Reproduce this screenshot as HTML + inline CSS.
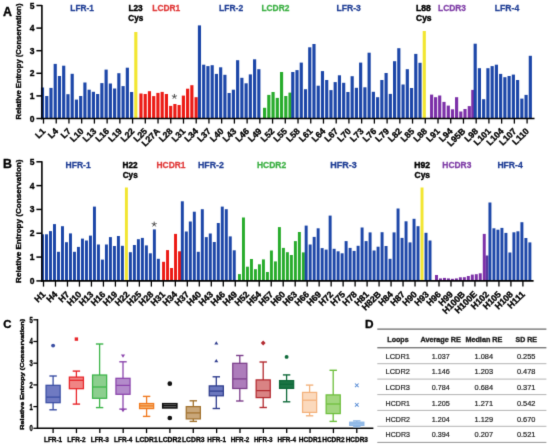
<!DOCTYPE html>
<html><head><meta charset="utf-8"><style>
html,body{margin:0;padding:0;background:#fff;width:550px;height:446px;overflow:hidden}
</style></head><body>
<svg width="550" height="446" viewBox="0 0 550 446" style="display:block;will-change:transform">
<defs><filter id="soft" x="0" y="0" width="550" height="446" filterUnits="userSpaceOnUse" color-interpolation-filters="sRGB"><feConvolveMatrix order="3" kernelMatrix="0.0114 0.084 0.0114 0.084 0.618 0.084 0.0114 0.084 0.0114" edgeMode="duplicate"/></filter></defs>
<g filter="url(#soft)">
<rect width="550" height="446" fill="#fff"/>
<g font-family='"Liberation Sans", sans-serif'>
<rect x="40.92" y="87.50" width="3.15" height="31.00" fill="#1c46a8" />
<rect x="45.17" y="96.00" width="3.15" height="22.50" fill="#1c46a8" />
<rect x="49.41" y="87.90" width="3.15" height="30.60" fill="#1c46a8" />
<rect x="53.65" y="63.90" width="3.15" height="54.60" fill="#1c46a8" />
<rect x="57.89" y="76.00" width="3.15" height="42.50" fill="#1c46a8" />
<rect x="62.13" y="65.70" width="3.15" height="52.80" fill="#1c46a8" />
<rect x="66.38" y="94.20" width="3.15" height="24.30" fill="#1c46a8" />
<rect x="70.62" y="73.80" width="3.15" height="44.70" fill="#1c46a8" />
<rect x="74.86" y="99.60" width="3.15" height="18.90" fill="#1c46a8" />
<rect x="79.10" y="96.00" width="3.15" height="22.50" fill="#1c46a8" />
<rect x="83.34" y="82.50" width="3.15" height="36.00" fill="#1c46a8" />
<rect x="87.59" y="89.70" width="3.15" height="28.80" fill="#1c46a8" />
<rect x="91.83" y="91.80" width="3.15" height="26.70" fill="#1c46a8" />
<rect x="96.07" y="94.00" width="3.15" height="24.50" fill="#1c46a8" />
<rect x="100.31" y="83.10" width="3.15" height="35.40" fill="#1c46a8" />
<rect x="104.55" y="69.60" width="3.15" height="48.90" fill="#1c46a8" />
<rect x="108.80" y="83.50" width="3.15" height="35.00" fill="#1c46a8" />
<rect x="113.04" y="88.50" width="3.15" height="30.00" fill="#1c46a8" />
<rect x="117.28" y="73.20" width="3.15" height="45.30" fill="#1c46a8" />
<rect x="121.52" y="86.10" width="3.15" height="32.40" fill="#1c46a8" />
<rect x="125.77" y="67.70" width="3.15" height="50.80" fill="#1c46a8" />
<rect x="130.01" y="92.00" width="3.15" height="26.50" fill="#1c46a8" />
<rect x="134.25" y="32.00" width="3.15" height="86.50" fill="#f2e630" />
<rect x="139.39" y="93.50" width="3.15" height="25.00" fill="#ec1a14" />
<rect x="143.63" y="94.00" width="3.15" height="24.50" fill="#ec1a14" />
<rect x="147.88" y="91.20" width="3.15" height="27.30" fill="#ec1a14" />
<rect x="152.12" y="96.10" width="3.15" height="22.40" fill="#ec1a14" />
<rect x="156.36" y="92.90" width="3.15" height="25.60" fill="#ec1a14" />
<rect x="160.60" y="91.90" width="3.15" height="26.60" fill="#ec1a14" />
<rect x="164.84" y="94.00" width="3.15" height="24.50" fill="#ec1a14" />
<rect x="169.09" y="105.90" width="3.15" height="12.60" fill="#ec1a14" />
<rect x="173.33" y="104.00" width="3.15" height="14.50" fill="#ec1a14" />
<rect x="177.57" y="105.00" width="3.15" height="13.50" fill="#ec1a14" />
<rect x="181.81" y="95.60" width="3.15" height="22.90" fill="#ec1a14" />
<rect x="186.05" y="88.70" width="3.15" height="29.80" fill="#ec1a14" />
<rect x="190.30" y="85.20" width="3.15" height="33.30" fill="#ec1a14" />
<rect x="194.54" y="97.20" width="3.15" height="21.30" fill="#ec1a14" />
<rect x="197.88" y="25.40" width="3.15" height="93.10" fill="#1c46a8" />
<rect x="202.12" y="64.70" width="3.15" height="53.80" fill="#1c46a8" />
<rect x="206.36" y="66.10" width="3.15" height="52.40" fill="#1c46a8" />
<rect x="210.61" y="65.20" width="3.15" height="53.30" fill="#1c46a8" />
<rect x="214.85" y="73.90" width="3.15" height="44.60" fill="#1c46a8" />
<rect x="219.09" y="67.30" width="3.15" height="51.20" fill="#1c46a8" />
<rect x="223.33" y="74.80" width="3.15" height="43.70" fill="#1c46a8" />
<rect x="227.57" y="93.00" width="3.15" height="25.50" fill="#1c46a8" />
<rect x="231.81" y="89.70" width="3.15" height="28.80" fill="#1c46a8" />
<rect x="236.06" y="60.20" width="3.15" height="58.30" fill="#1c46a8" />
<rect x="240.30" y="77.80" width="3.15" height="40.70" fill="#1c46a8" />
<rect x="244.54" y="83.30" width="3.15" height="35.20" fill="#1c46a8" />
<rect x="248.78" y="74.40" width="3.15" height="44.10" fill="#1c46a8" />
<rect x="253.03" y="59.30" width="3.15" height="59.20" fill="#1c46a8" />
<rect x="257.27" y="69.20" width="3.15" height="49.30" fill="#1c46a8" />
<rect x="263.01" y="107.80" width="3.15" height="10.70" fill="#28ac2c" />
<rect x="267.25" y="94.90" width="3.15" height="23.60" fill="#28ac2c" />
<rect x="271.49" y="92.00" width="3.15" height="26.50" fill="#28ac2c" />
<rect x="275.74" y="97.90" width="3.15" height="20.60" fill="#28ac2c" />
<rect x="279.98" y="72.00" width="3.15" height="46.50" fill="#28ac2c" />
<rect x="284.22" y="96.00" width="3.15" height="22.50" fill="#28ac2c" />
<rect x="288.46" y="92.60" width="3.15" height="25.90" fill="#28ac2c" />
<rect x="291.20" y="72.00" width="3.15" height="46.50" fill="#1c46a8" />
<rect x="295.44" y="70.10" width="3.15" height="48.40" fill="#1c46a8" />
<rect x="299.69" y="62.60" width="3.15" height="55.90" fill="#1c46a8" />
<rect x="303.93" y="89.20" width="3.15" height="29.30" fill="#1c46a8" />
<rect x="308.17" y="47.30" width="3.15" height="71.20" fill="#1c46a8" />
<rect x="312.41" y="44.00" width="3.15" height="74.50" fill="#1c46a8" />
<rect x="316.66" y="85.70" width="3.15" height="32.80" fill="#1c46a8" />
<rect x="320.90" y="71.10" width="3.15" height="47.40" fill="#1c46a8" />
<rect x="325.14" y="80.00" width="3.15" height="38.50" fill="#1c46a8" />
<rect x="329.38" y="90.10" width="3.15" height="28.40" fill="#1c46a8" />
<rect x="333.62" y="82.10" width="3.15" height="36.40" fill="#1c46a8" />
<rect x="337.87" y="75.30" width="3.15" height="43.20" fill="#1c46a8" />
<rect x="342.11" y="82.80" width="3.15" height="35.70" fill="#1c46a8" />
<rect x="346.35" y="92.00" width="3.15" height="26.50" fill="#1c46a8" />
<rect x="350.59" y="76.20" width="3.15" height="42.30" fill="#1c46a8" />
<rect x="354.83" y="87.80" width="3.15" height="30.70" fill="#1c46a8" />
<rect x="359.07" y="62.60" width="3.15" height="55.90" fill="#1c46a8" />
<rect x="363.32" y="87.30" width="3.15" height="31.20" fill="#1c46a8" />
<rect x="367.56" y="52.70" width="3.15" height="65.80" fill="#1c46a8" />
<rect x="371.80" y="91.80" width="3.15" height="26.70" fill="#1c46a8" />
<rect x="376.04" y="97.20" width="3.15" height="21.30" fill="#1c46a8" />
<rect x="380.29" y="80.00" width="3.15" height="38.50" fill="#1c46a8" />
<rect x="384.53" y="73.00" width="3.15" height="45.50" fill="#1c46a8" />
<rect x="388.77" y="93.90" width="3.15" height="24.60" fill="#1c46a8" />
<rect x="393.01" y="61.20" width="3.15" height="57.30" fill="#1c46a8" />
<rect x="397.25" y="48.20" width="3.15" height="70.30" fill="#1c46a8" />
<rect x="401.50" y="84.50" width="3.15" height="34.00" fill="#1c46a8" />
<rect x="405.74" y="69.20" width="3.15" height="49.30" fill="#1c46a8" />
<rect x="409.98" y="88.00" width="3.15" height="30.50" fill="#1c46a8" />
<rect x="414.22" y="53.90" width="3.15" height="64.60" fill="#1c46a8" />
<rect x="418.46" y="62.80" width="3.15" height="55.70" fill="#1c46a8" />
<rect x="422.70" y="31.00" width="3.15" height="87.50" fill="#f2e630" />
<rect x="430.03" y="94.60" width="3.15" height="23.90" fill="#7c30a8" />
<rect x="434.03" y="97.20" width="3.15" height="21.30" fill="#7c30a8" />
<rect x="438.12" y="95.50" width="3.15" height="23.00" fill="#7c30a8" />
<rect x="442.43" y="101.90" width="3.15" height="16.60" fill="#7c30a8" />
<rect x="446.73" y="105.60" width="3.15" height="12.90" fill="#7c30a8" />
<rect x="450.93" y="109.30" width="3.15" height="9.20" fill="#7c30a8" />
<rect x="455.03" y="97.20" width="3.15" height="21.30" fill="#7c30a8" />
<rect x="459.23" y="111.50" width="3.15" height="7.00" fill="#7c30a8" />
<rect x="463.43" y="109.00" width="3.15" height="9.50" fill="#7c30a8" />
<rect x="467.73" y="106.10" width="3.15" height="12.40" fill="#7c30a8" />
<rect x="471.23" y="89.90" width="3.15" height="28.60" fill="#7c30a8" />
<rect x="473.61" y="43.70" width="3.15" height="74.80" fill="#1c46a8" />
<rect x="477.85" y="68.20" width="3.15" height="50.30" fill="#1c46a8" />
<rect x="482.09" y="99.20" width="3.15" height="19.30" fill="#1c46a8" />
<rect x="486.34" y="68.20" width="3.15" height="50.30" fill="#1c46a8" />
<rect x="490.58" y="66.10" width="3.15" height="52.40" fill="#1c46a8" />
<rect x="494.82" y="64.70" width="3.15" height="53.80" fill="#1c46a8" />
<rect x="499.06" y="73.90" width="3.15" height="44.60" fill="#1c46a8" />
<rect x="503.30" y="77.20" width="3.15" height="41.30" fill="#1c46a8" />
<rect x="507.55" y="76.00" width="3.15" height="42.50" fill="#1c46a8" />
<rect x="511.79" y="74.60" width="3.15" height="43.90" fill="#1c46a8" />
<rect x="516.03" y="80.00" width="3.15" height="38.50" fill="#1c46a8" />
<rect x="520.27" y="98.60" width="3.15" height="19.90" fill="#1c46a8" />
<rect x="524.51" y="94.90" width="3.15" height="23.60" fill="#1c46a8" />
<rect x="528.75" y="55.80" width="3.15" height="62.70" fill="#1c46a8" />
<line x1="41.90" y1="4.90" x2="41.90" y2="119.30" stroke="#000" stroke-width="1.6"/>
<line x1="41.10" y1="118.50" x2="534.50" y2="118.50" stroke="#000" stroke-width="1.6"/>
<line x1="36.40" y1="118.50" x2="41.90" y2="118.50" stroke="#000" stroke-width="1.5"/>
<text x="34.40" y="121.55" font-size="8.5" font-weight="bold" fill="#000" text-anchor="end" stroke="#000" stroke-width="0.36" >0</text>
<line x1="36.40" y1="95.90" x2="41.90" y2="95.90" stroke="#000" stroke-width="1.5"/>
<text x="34.40" y="98.95" font-size="8.5" font-weight="bold" fill="#000" text-anchor="end" stroke="#000" stroke-width="0.36" >1</text>
<line x1="36.40" y1="73.30" x2="41.90" y2="73.30" stroke="#000" stroke-width="1.5"/>
<text x="34.40" y="76.35" font-size="8.5" font-weight="bold" fill="#000" text-anchor="end" stroke="#000" stroke-width="0.36" >2</text>
<line x1="36.40" y1="50.70" x2="41.90" y2="50.70" stroke="#000" stroke-width="1.5"/>
<text x="34.40" y="53.75" font-size="8.5" font-weight="bold" fill="#000" text-anchor="end" stroke="#000" stroke-width="0.36" >3</text>
<line x1="36.40" y1="28.10" x2="41.90" y2="28.10" stroke="#000" stroke-width="1.5"/>
<text x="34.40" y="31.15" font-size="8.5" font-weight="bold" fill="#000" text-anchor="end" stroke="#000" stroke-width="0.36" >4</text>
<line x1="36.40" y1="5.50" x2="41.90" y2="5.50" stroke="#000" stroke-width="1.5"/>
<text x="34.40" y="8.55" font-size="8.5" font-weight="bold" fill="#000" text-anchor="end" stroke="#000" stroke-width="0.36" >5</text>
<line x1="43.50" y1="118.50" x2="43.50" y2="123.60" stroke="#000" stroke-width="1.3"/>
<text x="0.00" y="0.00" font-size="8.8" font-weight="bold" fill="#000" text-anchor="end" stroke="#000" stroke-width="0.36" transform="translate(46.00 131.70) scale(1 1.0) rotate(-45)">L1</text>
<line x1="56.23" y1="118.50" x2="56.23" y2="123.60" stroke="#000" stroke-width="1.3"/>
<text x="0.00" y="0.00" font-size="8.8" font-weight="bold" fill="#000" text-anchor="end" stroke="#000" stroke-width="0.36" transform="translate(58.73 131.70) scale(1 1.0) rotate(-45)">L4</text>
<line x1="68.95" y1="118.50" x2="68.95" y2="123.60" stroke="#000" stroke-width="1.3"/>
<text x="0.00" y="0.00" font-size="8.8" font-weight="bold" fill="#000" text-anchor="end" stroke="#000" stroke-width="0.36" transform="translate(71.45 131.70) scale(1 1.0) rotate(-45)">L7</text>
<line x1="81.68" y1="118.50" x2="81.68" y2="123.60" stroke="#000" stroke-width="1.3"/>
<text x="0.00" y="0.00" font-size="8.8" font-weight="bold" fill="#000" text-anchor="end" stroke="#000" stroke-width="0.36" transform="translate(84.18 131.70) scale(1 1.0) rotate(-45)">L10</text>
<line x1="94.40" y1="118.50" x2="94.40" y2="123.60" stroke="#000" stroke-width="1.3"/>
<text x="0.00" y="0.00" font-size="8.8" font-weight="bold" fill="#000" text-anchor="end" stroke="#000" stroke-width="0.36" transform="translate(96.90 131.70) scale(1 1.0) rotate(-45)">L13</text>
<line x1="107.13" y1="118.50" x2="107.13" y2="123.60" stroke="#000" stroke-width="1.3"/>
<text x="0.00" y="0.00" font-size="8.8" font-weight="bold" fill="#000" text-anchor="end" stroke="#000" stroke-width="0.36" transform="translate(109.63 131.70) scale(1 1.0) rotate(-45)">L16</text>
<line x1="119.86" y1="118.50" x2="119.86" y2="123.60" stroke="#000" stroke-width="1.3"/>
<text x="0.00" y="0.00" font-size="8.8" font-weight="bold" fill="#000" text-anchor="end" stroke="#000" stroke-width="0.36" transform="translate(122.36 131.70) scale(1 1.0) rotate(-45)">L19</text>
<line x1="132.58" y1="118.50" x2="132.58" y2="123.60" stroke="#000" stroke-width="1.3"/>
<text x="0.00" y="0.00" font-size="8.8" font-weight="bold" fill="#000" text-anchor="end" stroke="#000" stroke-width="0.36" transform="translate(135.08 131.70) scale(1 1.0) rotate(-45)">L22</text>
<line x1="145.31" y1="118.50" x2="145.31" y2="123.60" stroke="#000" stroke-width="1.3"/>
<text x="0.00" y="0.00" font-size="8.8" font-weight="bold" fill="#000" text-anchor="end" stroke="#000" stroke-width="0.36" transform="translate(147.81 131.70) scale(1 1.0) rotate(-45)">L25</text>
<line x1="158.03" y1="118.50" x2="158.03" y2="123.60" stroke="#000" stroke-width="1.3"/>
<text x="0.00" y="0.00" font-size="8.8" font-weight="bold" fill="#000" text-anchor="end" stroke="#000" stroke-width="0.36" transform="translate(160.53 131.70) scale(1 1.0) rotate(-45)">L27A</text>
<line x1="170.76" y1="118.50" x2="170.76" y2="123.60" stroke="#000" stroke-width="1.3"/>
<text x="0.00" y="0.00" font-size="8.8" font-weight="bold" fill="#000" text-anchor="end" stroke="#000" stroke-width="0.36" transform="translate(173.26 131.70) scale(1 1.0) rotate(-45)">L28</text>
<line x1="183.49" y1="118.50" x2="183.49" y2="123.60" stroke="#000" stroke-width="1.3"/>
<text x="0.00" y="0.00" font-size="8.8" font-weight="bold" fill="#000" text-anchor="end" stroke="#000" stroke-width="0.36" transform="translate(185.99 131.70) scale(1 1.0) rotate(-45)">L31</text>
<line x1="196.21" y1="118.50" x2="196.21" y2="123.60" stroke="#000" stroke-width="1.3"/>
<text x="0.00" y="0.00" font-size="8.8" font-weight="bold" fill="#000" text-anchor="end" stroke="#000" stroke-width="0.36" transform="translate(198.71 131.70) scale(1 1.0) rotate(-45)">L34</text>
<line x1="208.94" y1="118.50" x2="208.94" y2="123.60" stroke="#000" stroke-width="1.3"/>
<text x="0.00" y="0.00" font-size="8.8" font-weight="bold" fill="#000" text-anchor="end" stroke="#000" stroke-width="0.36" transform="translate(211.44 131.70) scale(1 1.0) rotate(-45)">L37</text>
<line x1="221.66" y1="118.50" x2="221.66" y2="123.60" stroke="#000" stroke-width="1.3"/>
<text x="0.00" y="0.00" font-size="8.8" font-weight="bold" fill="#000" text-anchor="end" stroke="#000" stroke-width="0.36" transform="translate(224.16 131.70) scale(1 1.0) rotate(-45)">L40</text>
<line x1="234.39" y1="118.50" x2="234.39" y2="123.60" stroke="#000" stroke-width="1.3"/>
<text x="0.00" y="0.00" font-size="8.8" font-weight="bold" fill="#000" text-anchor="end" stroke="#000" stroke-width="0.36" transform="translate(236.89 131.70) scale(1 1.0) rotate(-45)">L43</text>
<line x1="247.12" y1="118.50" x2="247.12" y2="123.60" stroke="#000" stroke-width="1.3"/>
<text x="0.00" y="0.00" font-size="8.8" font-weight="bold" fill="#000" text-anchor="end" stroke="#000" stroke-width="0.36" transform="translate(249.62 131.70) scale(1 1.0) rotate(-45)">L46</text>
<line x1="259.84" y1="118.50" x2="259.84" y2="123.60" stroke="#000" stroke-width="1.3"/>
<text x="0.00" y="0.00" font-size="8.8" font-weight="bold" fill="#000" text-anchor="end" stroke="#000" stroke-width="0.36" transform="translate(262.34 131.70) scale(1 1.0) rotate(-45)">L49</text>
<line x1="272.57" y1="118.50" x2="272.57" y2="123.60" stroke="#000" stroke-width="1.3"/>
<text x="0.00" y="0.00" font-size="8.8" font-weight="bold" fill="#000" text-anchor="end" stroke="#000" stroke-width="0.36" transform="translate(275.07 131.70) scale(1 1.0) rotate(-45)">L52</text>
<line x1="285.29" y1="118.50" x2="285.29" y2="123.60" stroke="#000" stroke-width="1.3"/>
<text x="0.00" y="0.00" font-size="8.8" font-weight="bold" fill="#000" text-anchor="end" stroke="#000" stroke-width="0.36" transform="translate(287.79 131.70) scale(1 1.0) rotate(-45)">L55</text>
<line x1="298.02" y1="118.50" x2="298.02" y2="123.60" stroke="#000" stroke-width="1.3"/>
<text x="0.00" y="0.00" font-size="8.8" font-weight="bold" fill="#000" text-anchor="end" stroke="#000" stroke-width="0.36" transform="translate(300.52 131.70) scale(1 1.0) rotate(-45)">L58</text>
<line x1="310.75" y1="118.50" x2="310.75" y2="123.60" stroke="#000" stroke-width="1.3"/>
<text x="0.00" y="0.00" font-size="8.8" font-weight="bold" fill="#000" text-anchor="end" stroke="#000" stroke-width="0.36" transform="translate(313.25 131.70) scale(1 1.0) rotate(-45)">L61</text>
<line x1="323.47" y1="118.50" x2="323.47" y2="123.60" stroke="#000" stroke-width="1.3"/>
<text x="0.00" y="0.00" font-size="8.8" font-weight="bold" fill="#000" text-anchor="end" stroke="#000" stroke-width="0.36" transform="translate(325.97 131.70) scale(1 1.0) rotate(-45)">L64</text>
<line x1="336.20" y1="118.50" x2="336.20" y2="123.60" stroke="#000" stroke-width="1.3"/>
<text x="0.00" y="0.00" font-size="8.8" font-weight="bold" fill="#000" text-anchor="end" stroke="#000" stroke-width="0.36" transform="translate(338.70 131.70) scale(1 1.0) rotate(-45)">L67</text>
<line x1="348.92" y1="118.50" x2="348.92" y2="123.60" stroke="#000" stroke-width="1.3"/>
<text x="0.00" y="0.00" font-size="8.8" font-weight="bold" fill="#000" text-anchor="end" stroke="#000" stroke-width="0.36" transform="translate(351.42 131.70) scale(1 1.0) rotate(-45)">L70</text>
<line x1="361.65" y1="118.50" x2="361.65" y2="123.60" stroke="#000" stroke-width="1.3"/>
<text x="0.00" y="0.00" font-size="8.8" font-weight="bold" fill="#000" text-anchor="end" stroke="#000" stroke-width="0.36" transform="translate(364.15 131.70) scale(1 1.0) rotate(-45)">L73</text>
<line x1="374.38" y1="118.50" x2="374.38" y2="123.60" stroke="#000" stroke-width="1.3"/>
<text x="0.00" y="0.00" font-size="8.8" font-weight="bold" fill="#000" text-anchor="end" stroke="#000" stroke-width="0.36" transform="translate(376.88 131.70) scale(1 1.0) rotate(-45)">L76</text>
<line x1="387.10" y1="118.50" x2="387.10" y2="123.60" stroke="#000" stroke-width="1.3"/>
<text x="0.00" y="0.00" font-size="8.8" font-weight="bold" fill="#000" text-anchor="end" stroke="#000" stroke-width="0.36" transform="translate(389.60 131.70) scale(1 1.0) rotate(-45)">L79</text>
<line x1="399.83" y1="118.50" x2="399.83" y2="123.60" stroke="#000" stroke-width="1.3"/>
<text x="0.00" y="0.00" font-size="8.8" font-weight="bold" fill="#000" text-anchor="end" stroke="#000" stroke-width="0.36" transform="translate(402.33 131.70) scale(1 1.0) rotate(-45)">L82</text>
<line x1="412.55" y1="118.50" x2="412.55" y2="123.60" stroke="#000" stroke-width="1.3"/>
<text x="0.00" y="0.00" font-size="8.8" font-weight="bold" fill="#000" text-anchor="end" stroke="#000" stroke-width="0.36" transform="translate(415.05 131.70) scale(1 1.0) rotate(-45)">L85</text>
<line x1="425.28" y1="118.50" x2="425.28" y2="123.60" stroke="#000" stroke-width="1.3"/>
<text x="0.00" y="0.00" font-size="8.8" font-weight="bold" fill="#000" text-anchor="end" stroke="#000" stroke-width="0.36" transform="translate(427.78 131.70) scale(1 1.0) rotate(-45)">L88</text>
<line x1="438.01" y1="118.50" x2="438.01" y2="123.60" stroke="#000" stroke-width="1.3"/>
<text x="0.00" y="0.00" font-size="8.8" font-weight="bold" fill="#000" text-anchor="end" stroke="#000" stroke-width="0.36" transform="translate(440.51 131.70) scale(1 1.0) rotate(-45)">L91</text>
<line x1="450.73" y1="118.50" x2="450.73" y2="123.60" stroke="#000" stroke-width="1.3"/>
<text x="0.00" y="0.00" font-size="8.8" font-weight="bold" fill="#000" text-anchor="end" stroke="#000" stroke-width="0.36" transform="translate(453.23 131.70) scale(1 1.0) rotate(-45)">L94</text>
<line x1="463.46" y1="118.50" x2="463.46" y2="123.60" stroke="#000" stroke-width="1.3"/>
<text x="0.00" y="0.00" font-size="8.8" font-weight="bold" fill="#000" text-anchor="end" stroke="#000" stroke-width="0.36" transform="translate(465.96 131.70) scale(1 1.0) rotate(-45)">L95B</text>
<line x1="476.18" y1="118.50" x2="476.18" y2="123.60" stroke="#000" stroke-width="1.3"/>
<text x="0.00" y="0.00" font-size="8.8" font-weight="bold" fill="#000" text-anchor="end" stroke="#000" stroke-width="0.36" transform="translate(478.68 131.70) scale(1 1.0) rotate(-45)">L98</text>
<line x1="488.91" y1="118.50" x2="488.91" y2="123.60" stroke="#000" stroke-width="1.3"/>
<text x="0.00" y="0.00" font-size="8.8" font-weight="bold" fill="#000" text-anchor="end" stroke="#000" stroke-width="0.36" transform="translate(491.41 131.70) scale(1 1.0) rotate(-45)">L101</text>
<line x1="501.64" y1="118.50" x2="501.64" y2="123.60" stroke="#000" stroke-width="1.3"/>
<text x="0.00" y="0.00" font-size="8.8" font-weight="bold" fill="#000" text-anchor="end" stroke="#000" stroke-width="0.36" transform="translate(504.14 131.70) scale(1 1.0) rotate(-45)">L104</text>
<line x1="514.36" y1="118.50" x2="514.36" y2="123.60" stroke="#000" stroke-width="1.3"/>
<text x="0.00" y="0.00" font-size="8.8" font-weight="bold" fill="#000" text-anchor="end" stroke="#000" stroke-width="0.36" transform="translate(516.86 131.70) scale(1 1.0) rotate(-45)">L107</text>
<line x1="527.09" y1="118.50" x2="527.09" y2="123.60" stroke="#000" stroke-width="1.3"/>
<text x="0.00" y="0.00" font-size="8.8" font-weight="bold" fill="#000" text-anchor="end" stroke="#000" stroke-width="0.36" transform="translate(529.59 131.70) scale(1 1.0) rotate(-45)">L110</text>
<text x="2.90" y="15.75" font-size="12.4" font-weight="bold" fill="#000" text-anchor="start" stroke="#000" stroke-width="0.36" >A</text>
<text x="21.20" y="61.50" font-size="7.9" font-weight="bold" fill="#000" text-anchor="middle" stroke="#000" stroke-width="0.36" transform="rotate(-90 21.2 61.5)" textLength="116" lengthAdjust="spacingAndGlyphs">Relative Entropy (Conservation)</text>
<text x="70.30" y="11.30" font-size="8.2" font-weight="bold" fill="#213f96" text-anchor="start" stroke="#213f96" stroke-width="0.26" textLength="23.6" lengthAdjust="spacingAndGlyphs">LFR-1</text>
<text x="128.40" y="11.30" font-size="8.2" font-weight="bold" fill="#000" text-anchor="start" stroke="#000" stroke-width="0.4" textLength="14.3" lengthAdjust="spacingAndGlyphs">L23</text>
<text x="128.30" y="20.90" font-size="8.2" font-weight="bold" fill="#000" text-anchor="start" stroke="#000" stroke-width="0.4" textLength="15.0" lengthAdjust="spacingAndGlyphs">Cys</text>
<text x="152.30" y="11.30" font-size="8.2" font-weight="bold" fill="#e03a3a" text-anchor="start" stroke="#e03a3a" stroke-width="0.26" textLength="28.0" lengthAdjust="spacingAndGlyphs">LCDR1</text>
<text x="219.10" y="11.30" font-size="8.2" font-weight="bold" fill="#213f96" text-anchor="start" stroke="#213f96" stroke-width="0.26" textLength="24.0" lengthAdjust="spacingAndGlyphs">LFR-2</text>
<text x="261.40" y="11.30" font-size="8.2" font-weight="bold" fill="#3cb044" text-anchor="start" stroke="#3cb044" stroke-width="0.26" textLength="28.0" lengthAdjust="spacingAndGlyphs">LCDR2</text>
<text x="336.40" y="11.30" font-size="8.2" font-weight="bold" fill="#213f96" text-anchor="start" stroke="#213f96" stroke-width="0.26" textLength="24.4" lengthAdjust="spacingAndGlyphs">LFR-3</text>
<text x="416.00" y="11.30" font-size="8.2" font-weight="bold" fill="#000" text-anchor="start" stroke="#000" stroke-width="0.4" textLength="14.8" lengthAdjust="spacingAndGlyphs">L88</text>
<text x="416.00" y="20.90" font-size="8.2" font-weight="bold" fill="#000" text-anchor="start" stroke="#000" stroke-width="0.4" textLength="15.6" lengthAdjust="spacingAndGlyphs">Cys</text>
<text x="438.00" y="11.30" font-size="8.2" font-weight="bold" fill="#8040a8" text-anchor="start" stroke="#8040a8" stroke-width="0.26" textLength="28.0" lengthAdjust="spacingAndGlyphs">LCDR3</text>
<text x="494.80" y="11.30" font-size="8.2" font-weight="bold" fill="#213f96" text-anchor="start" stroke="#213f96" stroke-width="0.26" textLength="24.4" lengthAdjust="spacingAndGlyphs">LFR-4</text>
<path d="M174.40,96.60 L174.40,94.35 M174.40,96.60 L176.54,95.90 M174.40,96.60 L175.72,98.42 M174.40,96.60 L173.08,98.42 M174.40,96.60 L172.26,95.90 " stroke="#4a4a4a" stroke-width="0.95" stroke-linecap="round" fill="none"/>
<rect x="41.02" y="234.30" width="2.95" height="46.60" fill="#1c46a8" />
<rect x="45.02" y="234.30" width="2.95" height="46.60" fill="#1c46a8" />
<rect x="49.02" y="231.10" width="2.95" height="49.80" fill="#1c46a8" />
<rect x="53.01" y="224.10" width="2.95" height="56.80" fill="#1c46a8" />
<rect x="57.01" y="251.80" width="2.95" height="29.10" fill="#1c46a8" />
<rect x="61.00" y="226.20" width="2.95" height="54.70" fill="#1c46a8" />
<rect x="65.00" y="242.20" width="2.95" height="38.70" fill="#1c46a8" />
<rect x="68.99" y="233.40" width="2.95" height="47.50" fill="#1c46a8" />
<rect x="72.99" y="251.80" width="2.95" height="29.10" fill="#1c46a8" />
<rect x="76.98" y="246.90" width="2.95" height="34.00" fill="#1c46a8" />
<rect x="80.98" y="238.60" width="2.95" height="42.30" fill="#1c46a8" />
<rect x="84.97" y="240.50" width="2.95" height="40.40" fill="#1c46a8" />
<rect x="88.97" y="235.60" width="2.95" height="45.30" fill="#1c46a8" />
<rect x="92.96" y="206.60" width="2.95" height="74.30" fill="#1c46a8" />
<rect x="96.96" y="244.50" width="2.95" height="36.40" fill="#1c46a8" />
<rect x="100.95" y="259.60" width="2.95" height="21.30" fill="#1c46a8" />
<rect x="104.95" y="244.50" width="2.95" height="36.40" fill="#1c46a8" />
<rect x="108.94" y="237.10" width="2.95" height="43.80" fill="#1c46a8" />
<rect x="112.94" y="246.00" width="2.95" height="34.90" fill="#1c46a8" />
<rect x="116.93" y="236.00" width="2.95" height="44.90" fill="#1c46a8" />
<rect x="120.93" y="245.80" width="2.95" height="35.10" fill="#1c46a8" />
<rect x="124.92" y="187.50" width="2.95" height="93.40" fill="#f2e630" />
<rect x="128.91" y="252.20" width="2.95" height="28.70" fill="#1c46a8" />
<rect x="132.91" y="245.00" width="2.95" height="35.90" fill="#1c46a8" />
<rect x="136.91" y="239.20" width="2.95" height="41.70" fill="#1c46a8" />
<rect x="140.90" y="237.90" width="2.95" height="43.00" fill="#1c46a8" />
<rect x="144.90" y="245.40" width="2.95" height="35.50" fill="#1c46a8" />
<rect x="148.89" y="253.30" width="2.95" height="27.60" fill="#1c46a8" />
<rect x="152.89" y="229.40" width="2.95" height="51.50" fill="#1c46a8" />
<rect x="156.88" y="258.80" width="2.95" height="22.10" fill="#1c46a8" />
<rect x="162.08" y="261.80" width="2.95" height="19.10" fill="#ec1a14" />
<rect x="166.07" y="250.10" width="2.95" height="30.80" fill="#ec1a14" />
<rect x="170.06" y="268.00" width="2.95" height="12.90" fill="#ec1a14" />
<rect x="174.06" y="233.90" width="2.95" height="47.00" fill="#ec1a14" />
<rect x="178.06" y="251.30" width="2.95" height="29.60" fill="#ec1a14" />
<rect x="180.85" y="201.30" width="2.95" height="79.60" fill="#1c46a8" />
<rect x="184.84" y="231.50" width="2.95" height="49.40" fill="#1c46a8" />
<rect x="188.84" y="221.50" width="2.95" height="59.40" fill="#1c46a8" />
<rect x="192.84" y="211.70" width="2.95" height="69.20" fill="#1c46a8" />
<rect x="196.83" y="251.80" width="2.95" height="29.10" fill="#1c46a8" />
<rect x="200.83" y="209.20" width="2.95" height="71.70" fill="#1c46a8" />
<rect x="204.82" y="237.10" width="2.95" height="43.80" fill="#1c46a8" />
<rect x="208.81" y="233.50" width="2.95" height="47.40" fill="#1c46a8" />
<rect x="212.81" y="242.00" width="2.95" height="38.90" fill="#1c46a8" />
<rect x="216.81" y="223.00" width="2.95" height="57.90" fill="#1c46a8" />
<rect x="220.80" y="206.60" width="2.95" height="74.30" fill="#1c46a8" />
<rect x="224.80" y="209.20" width="2.95" height="71.70" fill="#1c46a8" />
<rect x="228.79" y="236.40" width="2.95" height="44.50" fill="#1c46a8" />
<rect x="232.78" y="250.30" width="2.95" height="30.60" fill="#1c46a8" />
<rect x="237.98" y="274.10" width="2.95" height="6.80" fill="#28ac2c" />
<rect x="241.97" y="217.50" width="2.95" height="63.40" fill="#28ac2c" />
<rect x="245.97" y="266.70" width="2.95" height="14.20" fill="#28ac2c" />
<rect x="249.97" y="259.00" width="2.95" height="21.90" fill="#28ac2c" />
<rect x="253.96" y="269.20" width="2.95" height="11.70" fill="#28ac2c" />
<rect x="257.95" y="264.30" width="2.95" height="16.60" fill="#28ac2c" />
<rect x="261.95" y="259.40" width="2.95" height="21.50" fill="#28ac2c" />
<rect x="265.94" y="272.00" width="2.95" height="8.90" fill="#28ac2c" />
<rect x="269.94" y="250.50" width="2.95" height="30.40" fill="#28ac2c" />
<rect x="273.94" y="261.40" width="2.95" height="19.50" fill="#28ac2c" />
<rect x="277.93" y="227.10" width="2.95" height="53.80" fill="#28ac2c" />
<rect x="281.93" y="247.90" width="2.95" height="33.00" fill="#28ac2c" />
<rect x="285.92" y="252.20" width="2.95" height="28.70" fill="#28ac2c" />
<rect x="289.91" y="255.00" width="2.95" height="25.90" fill="#28ac2c" />
<rect x="293.91" y="241.10" width="2.95" height="39.80" fill="#28ac2c" />
<rect x="297.90" y="232.00" width="2.95" height="48.90" fill="#28ac2c" />
<rect x="301.90" y="252.40" width="2.95" height="28.50" fill="#28ac2c" />
<rect x="304.69" y="225.60" width="2.95" height="55.30" fill="#1c46a8" />
<rect x="308.69" y="244.50" width="2.95" height="36.40" fill="#1c46a8" />
<rect x="312.69" y="236.90" width="2.95" height="44.00" fill="#1c46a8" />
<rect x="316.68" y="228.30" width="2.95" height="52.60" fill="#1c46a8" />
<rect x="320.68" y="248.10" width="2.95" height="32.80" fill="#1c46a8" />
<rect x="324.67" y="249.60" width="2.95" height="31.30" fill="#1c46a8" />
<rect x="328.66" y="215.60" width="2.95" height="65.30" fill="#1c46a8" />
<rect x="332.66" y="248.80" width="2.95" height="32.10" fill="#1c46a8" />
<rect x="336.65" y="251.30" width="2.95" height="29.60" fill="#1c46a8" />
<rect x="340.65" y="253.30" width="2.95" height="27.60" fill="#1c46a8" />
<rect x="344.64" y="241.10" width="2.95" height="39.80" fill="#1c46a8" />
<rect x="348.64" y="247.90" width="2.95" height="33.00" fill="#1c46a8" />
<rect x="352.63" y="250.90" width="2.95" height="30.00" fill="#1c46a8" />
<rect x="356.63" y="245.80" width="2.95" height="35.10" fill="#1c46a8" />
<rect x="360.62" y="227.50" width="2.95" height="53.40" fill="#1c46a8" />
<rect x="364.62" y="241.10" width="2.95" height="39.80" fill="#1c46a8" />
<rect x="368.62" y="232.40" width="2.95" height="48.50" fill="#1c46a8" />
<rect x="372.61" y="250.50" width="2.95" height="30.40" fill="#1c46a8" />
<rect x="376.60" y="246.70" width="2.95" height="34.20" fill="#1c46a8" />
<rect x="380.60" y="232.20" width="2.95" height="48.70" fill="#1c46a8" />
<rect x="384.59" y="246.00" width="2.95" height="34.90" fill="#1c46a8" />
<rect x="388.59" y="258.80" width="2.95" height="22.10" fill="#1c46a8" />
<rect x="392.58" y="232.40" width="2.95" height="48.50" fill="#1c46a8" />
<rect x="396.58" y="208.50" width="2.95" height="72.40" fill="#1c46a8" />
<rect x="400.57" y="237.90" width="2.95" height="43.00" fill="#1c46a8" />
<rect x="404.57" y="221.30" width="2.95" height="59.60" fill="#1c46a8" />
<rect x="408.56" y="242.40" width="2.95" height="38.50" fill="#1c46a8" />
<rect x="412.56" y="218.80" width="2.95" height="62.10" fill="#1c46a8" />
<rect x="416.56" y="226.20" width="2.95" height="54.70" fill="#1c46a8" />
<rect x="420.55" y="187.50" width="2.95" height="93.40" fill="#f2e630" />
<rect x="424.54" y="232.80" width="2.95" height="48.10" fill="#1c46a8" />
<rect x="428.54" y="240.50" width="2.95" height="40.40" fill="#1c46a8" />
<rect x="485.47" y="255.50" width="2.95" height="25.40" fill="#5a38a0" />
<rect x="435.02" y="275.00" width="2.95" height="5.90" fill="#7c30a8" />
<rect x="439.00" y="278.40" width="2.95" height="2.50" fill="#7c30a8" />
<rect x="442.98" y="277.90" width="2.95" height="3.00" fill="#7c30a8" />
<rect x="446.96" y="278.40" width="2.95" height="2.50" fill="#7c30a8" />
<rect x="450.94" y="278.80" width="2.95" height="2.10" fill="#7c30a8" />
<rect x="454.92" y="278.40" width="2.95" height="2.50" fill="#7c30a8" />
<rect x="458.90" y="277.30" width="2.95" height="3.60" fill="#7c30a8" />
<rect x="462.88" y="277.20" width="2.95" height="3.70" fill="#7c30a8" />
<rect x="466.86" y="276.00" width="2.95" height="4.90" fill="#7c30a8" />
<rect x="470.84" y="274.60" width="2.95" height="6.30" fill="#7c30a8" />
<rect x="474.82" y="274.20" width="2.95" height="6.70" fill="#7c30a8" />
<rect x="478.80" y="273.30" width="2.95" height="7.60" fill="#7c30a8" />
<rect x="482.78" y="233.90" width="2.95" height="47.00" fill="#7c30a8" />
<rect x="488.46" y="202.50" width="2.95" height="78.40" fill="#1c46a8" />
<rect x="492.46" y="228.30" width="2.95" height="52.60" fill="#1c46a8" />
<rect x="496.45" y="229.70" width="2.95" height="51.20" fill="#1c46a8" />
<rect x="500.45" y="227.90" width="2.95" height="53.00" fill="#1c46a8" />
<rect x="504.44" y="232.90" width="2.95" height="48.00" fill="#1c46a8" />
<rect x="508.44" y="252.50" width="2.95" height="28.40" fill="#1c46a8" />
<rect x="512.44" y="232.30" width="2.95" height="48.60" fill="#1c46a8" />
<rect x="516.43" y="231.30" width="2.95" height="49.60" fill="#1c46a8" />
<rect x="520.43" y="222.20" width="2.95" height="58.70" fill="#1c46a8" />
<rect x="524.42" y="238.00" width="2.95" height="42.90" fill="#1c46a8" />
<rect x="528.41" y="242.40" width="2.95" height="38.50" fill="#1c46a8" />
<line x1="41.90" y1="161.20" x2="41.90" y2="281.70" stroke="#000" stroke-width="1.6"/>
<line x1="41.10" y1="280.90" x2="533.60" y2="280.90" stroke="#000" stroke-width="1.6"/>
<line x1="36.40" y1="280.90" x2="41.90" y2="280.90" stroke="#000" stroke-width="1.5"/>
<text x="34.40" y="283.95" font-size="8.5" font-weight="bold" fill="#000" text-anchor="end" stroke="#000" stroke-width="0.36" >0</text>
<line x1="36.40" y1="257.08" x2="41.90" y2="257.08" stroke="#000" stroke-width="1.5"/>
<text x="34.40" y="260.13" font-size="8.5" font-weight="bold" fill="#000" text-anchor="end" stroke="#000" stroke-width="0.36" >1</text>
<line x1="36.40" y1="233.26" x2="41.90" y2="233.26" stroke="#000" stroke-width="1.5"/>
<text x="34.40" y="236.31" font-size="8.5" font-weight="bold" fill="#000" text-anchor="end" stroke="#000" stroke-width="0.36" >2</text>
<line x1="36.40" y1="209.44" x2="41.90" y2="209.44" stroke="#000" stroke-width="1.5"/>
<text x="34.40" y="212.49" font-size="8.5" font-weight="bold" fill="#000" text-anchor="end" stroke="#000" stroke-width="0.36" >3</text>
<line x1="36.40" y1="185.62" x2="41.90" y2="185.62" stroke="#000" stroke-width="1.5"/>
<text x="34.40" y="188.67" font-size="8.5" font-weight="bold" fill="#000" text-anchor="end" stroke="#000" stroke-width="0.36" >4</text>
<line x1="36.40" y1="161.80" x2="41.90" y2="161.80" stroke="#000" stroke-width="1.5"/>
<text x="34.40" y="164.85" font-size="8.5" font-weight="bold" fill="#000" text-anchor="end" stroke="#000" stroke-width="0.36" >5</text>
<line x1="43.50" y1="280.90" x2="43.50" y2="286.60" stroke="#000" stroke-width="1.3"/>
<text x="0.00" y="0.00" font-size="8.9" font-weight="bold" fill="#000" text-anchor="end" stroke="#000" stroke-width="0.36" transform="translate(46.00 294.90) scale(1 1.0) rotate(-45)">H1</text>
<line x1="55.48" y1="280.90" x2="55.48" y2="286.60" stroke="#000" stroke-width="1.3"/>
<text x="0.00" y="0.00" font-size="8.9" font-weight="bold" fill="#000" text-anchor="end" stroke="#000" stroke-width="0.36" transform="translate(57.98 294.90) scale(1 1.0) rotate(-45)">H4</text>
<line x1="67.47" y1="280.90" x2="67.47" y2="286.60" stroke="#000" stroke-width="1.3"/>
<text x="0.00" y="0.00" font-size="8.9" font-weight="bold" fill="#000" text-anchor="end" stroke="#000" stroke-width="0.36" transform="translate(69.97 294.90) scale(1 1.0) rotate(-45)">H7</text>
<line x1="79.45" y1="280.90" x2="79.45" y2="286.60" stroke="#000" stroke-width="1.3"/>
<text x="0.00" y="0.00" font-size="8.9" font-weight="bold" fill="#000" text-anchor="end" stroke="#000" stroke-width="0.36" transform="translate(81.95 294.90) scale(1 1.0) rotate(-45)">H10</text>
<line x1="91.44" y1="280.90" x2="91.44" y2="286.60" stroke="#000" stroke-width="1.3"/>
<text x="0.00" y="0.00" font-size="8.9" font-weight="bold" fill="#000" text-anchor="end" stroke="#000" stroke-width="0.36" transform="translate(93.94 294.90) scale(1 1.0) rotate(-45)">H13</text>
<line x1="103.43" y1="280.90" x2="103.43" y2="286.60" stroke="#000" stroke-width="1.3"/>
<text x="0.00" y="0.00" font-size="8.9" font-weight="bold" fill="#000" text-anchor="end" stroke="#000" stroke-width="0.36" transform="translate(105.93 294.90) scale(1 1.0) rotate(-45)">H16</text>
<line x1="115.41" y1="280.90" x2="115.41" y2="286.60" stroke="#000" stroke-width="1.3"/>
<text x="0.00" y="0.00" font-size="8.9" font-weight="bold" fill="#000" text-anchor="end" stroke="#000" stroke-width="0.36" transform="translate(117.91 294.90) scale(1 1.0) rotate(-45)">H19</text>
<line x1="127.39" y1="280.90" x2="127.39" y2="286.60" stroke="#000" stroke-width="1.3"/>
<text x="0.00" y="0.00" font-size="8.9" font-weight="bold" fill="#000" text-anchor="end" stroke="#000" stroke-width="0.36" transform="translate(129.89 294.90) scale(1 1.0) rotate(-45)">H22</text>
<line x1="139.38" y1="280.90" x2="139.38" y2="286.60" stroke="#000" stroke-width="1.3"/>
<text x="0.00" y="0.00" font-size="8.9" font-weight="bold" fill="#000" text-anchor="end" stroke="#000" stroke-width="0.36" transform="translate(141.88 294.90) scale(1 1.0) rotate(-45)">H25</text>
<line x1="151.37" y1="280.90" x2="151.37" y2="286.60" stroke="#000" stroke-width="1.3"/>
<text x="0.00" y="0.00" font-size="8.9" font-weight="bold" fill="#000" text-anchor="end" stroke="#000" stroke-width="0.36" transform="translate(153.87 294.90) scale(1 1.0) rotate(-45)">H28</text>
<line x1="163.35" y1="280.90" x2="163.35" y2="286.60" stroke="#000" stroke-width="1.3"/>
<text x="0.00" y="0.00" font-size="8.9" font-weight="bold" fill="#000" text-anchor="end" stroke="#000" stroke-width="0.36" transform="translate(165.85 294.90) scale(1 1.0) rotate(-45)">H31</text>
<line x1="175.34" y1="280.90" x2="175.34" y2="286.60" stroke="#000" stroke-width="1.3"/>
<text x="0.00" y="0.00" font-size="8.9" font-weight="bold" fill="#000" text-anchor="end" stroke="#000" stroke-width="0.36" transform="translate(177.84 294.90) scale(1 1.0) rotate(-45)">H34</text>
<line x1="187.32" y1="280.90" x2="187.32" y2="286.60" stroke="#000" stroke-width="1.3"/>
<text x="0.00" y="0.00" font-size="8.9" font-weight="bold" fill="#000" text-anchor="end" stroke="#000" stroke-width="0.36" transform="translate(189.82 294.90) scale(1 1.0) rotate(-45)">H37</text>
<line x1="199.31" y1="280.90" x2="199.31" y2="286.60" stroke="#000" stroke-width="1.3"/>
<text x="0.00" y="0.00" font-size="8.9" font-weight="bold" fill="#000" text-anchor="end" stroke="#000" stroke-width="0.36" transform="translate(201.81 294.90) scale(1 1.0) rotate(-45)">H40</text>
<line x1="211.29" y1="280.90" x2="211.29" y2="286.60" stroke="#000" stroke-width="1.3"/>
<text x="0.00" y="0.00" font-size="8.9" font-weight="bold" fill="#000" text-anchor="end" stroke="#000" stroke-width="0.36" transform="translate(213.79 294.90) scale(1 1.0) rotate(-45)">H43</text>
<line x1="223.28" y1="280.90" x2="223.28" y2="286.60" stroke="#000" stroke-width="1.3"/>
<text x="0.00" y="0.00" font-size="8.9" font-weight="bold" fill="#000" text-anchor="end" stroke="#000" stroke-width="0.36" transform="translate(225.78 294.90) scale(1 1.0) rotate(-45)">H46</text>
<line x1="235.26" y1="280.90" x2="235.26" y2="286.60" stroke="#000" stroke-width="1.3"/>
<text x="0.00" y="0.00" font-size="8.9" font-weight="bold" fill="#000" text-anchor="end" stroke="#000" stroke-width="0.36" transform="translate(237.76 294.90) scale(1 1.0) rotate(-45)">H49</text>
<line x1="247.25" y1="280.90" x2="247.25" y2="286.60" stroke="#000" stroke-width="1.3"/>
<text x="0.00" y="0.00" font-size="8.9" font-weight="bold" fill="#000" text-anchor="end" stroke="#000" stroke-width="0.36" transform="translate(249.75 294.90) scale(1 1.0) rotate(-45)">H52</text>
<line x1="259.23" y1="280.90" x2="259.23" y2="286.60" stroke="#000" stroke-width="1.3"/>
<text x="0.00" y="0.00" font-size="8.9" font-weight="bold" fill="#000" text-anchor="end" stroke="#000" stroke-width="0.36" transform="translate(261.73 294.90) scale(1 1.0) rotate(-45)">H54</text>
<line x1="271.22" y1="280.90" x2="271.22" y2="286.60" stroke="#000" stroke-width="1.3"/>
<text x="0.00" y="0.00" font-size="8.9" font-weight="bold" fill="#000" text-anchor="end" stroke="#000" stroke-width="0.36" transform="translate(273.72 294.90) scale(1 1.0) rotate(-45)">H57</text>
<line x1="283.20" y1="280.90" x2="283.20" y2="286.60" stroke="#000" stroke-width="1.3"/>
<text x="0.00" y="0.00" font-size="8.9" font-weight="bold" fill="#000" text-anchor="end" stroke="#000" stroke-width="0.36" transform="translate(285.70 294.90) scale(1 1.0) rotate(-45)">H60</text>
<line x1="295.19" y1="280.90" x2="295.19" y2="286.60" stroke="#000" stroke-width="1.3"/>
<text x="0.00" y="0.00" font-size="8.9" font-weight="bold" fill="#000" text-anchor="end" stroke="#000" stroke-width="0.36" transform="translate(297.69 294.90) scale(1 1.0) rotate(-45)">H63</text>
<line x1="307.17" y1="280.90" x2="307.17" y2="286.60" stroke="#000" stroke-width="1.3"/>
<text x="0.00" y="0.00" font-size="8.9" font-weight="bold" fill="#000" text-anchor="end" stroke="#000" stroke-width="0.36" transform="translate(309.67 294.90) scale(1 1.0) rotate(-45)">H66</text>
<line x1="319.16" y1="280.90" x2="319.16" y2="286.60" stroke="#000" stroke-width="1.3"/>
<text x="0.00" y="0.00" font-size="8.9" font-weight="bold" fill="#000" text-anchor="end" stroke="#000" stroke-width="0.36" transform="translate(321.66 294.90) scale(1 1.0) rotate(-45)">H69</text>
<line x1="331.14" y1="280.90" x2="331.14" y2="286.60" stroke="#000" stroke-width="1.3"/>
<text x="0.00" y="0.00" font-size="8.9" font-weight="bold" fill="#000" text-anchor="end" stroke="#000" stroke-width="0.36" transform="translate(333.64 294.90) scale(1 1.0) rotate(-45)">H72</text>
<line x1="343.12" y1="280.90" x2="343.12" y2="286.60" stroke="#000" stroke-width="1.3"/>
<text x="0.00" y="0.00" font-size="8.9" font-weight="bold" fill="#000" text-anchor="end" stroke="#000" stroke-width="0.36" transform="translate(345.62 294.90) scale(1 1.0) rotate(-45)">H75</text>
<line x1="355.11" y1="280.90" x2="355.11" y2="286.60" stroke="#000" stroke-width="1.3"/>
<text x="0.00" y="0.00" font-size="8.9" font-weight="bold" fill="#000" text-anchor="end" stroke="#000" stroke-width="0.36" transform="translate(357.61 294.90) scale(1 1.0) rotate(-45)">H78</text>
<line x1="367.10" y1="280.90" x2="367.10" y2="286.60" stroke="#000" stroke-width="1.3"/>
<text x="0.00" y="0.00" font-size="8.9" font-weight="bold" fill="#000" text-anchor="end" stroke="#000" stroke-width="0.36" transform="translate(369.60 294.90) scale(1 1.0) rotate(-45)">H81</text>
<line x1="379.08" y1="280.90" x2="379.08" y2="286.60" stroke="#000" stroke-width="1.3"/>
<text x="0.00" y="0.00" font-size="8.9" font-weight="bold" fill="#000" text-anchor="end" stroke="#000" stroke-width="0.36" transform="translate(381.58 294.90) scale(1 1.0) rotate(-45)">H82B</text>
<line x1="391.06" y1="280.90" x2="391.06" y2="286.60" stroke="#000" stroke-width="1.3"/>
<text x="0.00" y="0.00" font-size="8.9" font-weight="bold" fill="#000" text-anchor="end" stroke="#000" stroke-width="0.36" transform="translate(393.56 294.90) scale(1 1.0) rotate(-45)">H84</text>
<line x1="403.05" y1="280.90" x2="403.05" y2="286.60" stroke="#000" stroke-width="1.3"/>
<text x="0.00" y="0.00" font-size="8.9" font-weight="bold" fill="#000" text-anchor="end" stroke="#000" stroke-width="0.36" transform="translate(405.55 294.90) scale(1 1.0) rotate(-45)">H87</text>
<line x1="415.04" y1="280.90" x2="415.04" y2="286.60" stroke="#000" stroke-width="1.3"/>
<text x="0.00" y="0.00" font-size="8.9" font-weight="bold" fill="#000" text-anchor="end" stroke="#000" stroke-width="0.36" transform="translate(417.54 294.90) scale(1 1.0) rotate(-45)">H90</text>
<line x1="427.02" y1="280.90" x2="427.02" y2="286.60" stroke="#000" stroke-width="1.3"/>
<text x="0.00" y="0.00" font-size="8.9" font-weight="bold" fill="#000" text-anchor="end" stroke="#000" stroke-width="0.36" transform="translate(429.52 294.90) scale(1 1.0) rotate(-45)">H93</text>
<line x1="439.00" y1="280.90" x2="439.00" y2="286.60" stroke="#000" stroke-width="1.3"/>
<text x="0.00" y="0.00" font-size="8.9" font-weight="bold" fill="#000" text-anchor="end" stroke="#000" stroke-width="0.36" transform="translate(441.50 294.90) scale(1 1.0) rotate(-45)">H96</text>
<line x1="450.99" y1="280.90" x2="450.99" y2="286.60" stroke="#000" stroke-width="1.3"/>
<text x="0.00" y="0.00" font-size="8.9" font-weight="bold" fill="#000" text-anchor="end" stroke="#000" stroke-width="0.36" transform="translate(453.49 294.90) scale(1 1.0) rotate(-45)">H99</text>
<line x1="462.98" y1="280.90" x2="462.98" y2="286.60" stroke="#000" stroke-width="1.3"/>
<text x="0.00" y="0.00" font-size="8.9" font-weight="bold" fill="#000" text-anchor="end" stroke="#000" stroke-width="0.36" transform="translate(465.48 294.90) scale(1 1.0) rotate(-45)">H100B</text>
<line x1="474.96" y1="280.90" x2="474.96" y2="286.60" stroke="#000" stroke-width="1.3"/>
<text x="0.00" y="0.00" font-size="8.9" font-weight="bold" fill="#000" text-anchor="end" stroke="#000" stroke-width="0.36" transform="translate(477.46 294.90) scale(1 1.0) rotate(-45)">H100E</text>
<line x1="486.94" y1="280.90" x2="486.94" y2="286.60" stroke="#000" stroke-width="1.3"/>
<text x="0.00" y="0.00" font-size="8.9" font-weight="bold" fill="#000" text-anchor="end" stroke="#000" stroke-width="0.36" transform="translate(489.44 294.90) scale(1 1.0) rotate(-45)">H102</text>
<line x1="498.93" y1="280.90" x2="498.93" y2="286.60" stroke="#000" stroke-width="1.3"/>
<text x="0.00" y="0.00" font-size="8.9" font-weight="bold" fill="#000" text-anchor="end" stroke="#000" stroke-width="0.36" transform="translate(501.43 294.90) scale(1 1.0) rotate(-45)">H105</text>
<line x1="510.92" y1="280.90" x2="510.92" y2="286.60" stroke="#000" stroke-width="1.3"/>
<text x="0.00" y="0.00" font-size="8.9" font-weight="bold" fill="#000" text-anchor="end" stroke="#000" stroke-width="0.36" transform="translate(513.41 294.90) scale(1 1.0) rotate(-45)">H108</text>
<line x1="522.90" y1="280.90" x2="522.90" y2="286.60" stroke="#000" stroke-width="1.3"/>
<text x="0.00" y="0.00" font-size="8.9" font-weight="bold" fill="#000" text-anchor="end" stroke="#000" stroke-width="0.36" transform="translate(525.40 294.90) scale(1 1.0) rotate(-45)">H111</text>
<text x="2.90" y="168.05" font-size="12.4" font-weight="bold" fill="#000" text-anchor="start" stroke="#000" stroke-width="0.36" >B</text>
<text x="21.20" y="221.20" font-size="7.9" font-weight="bold" fill="#000" text-anchor="middle" stroke="#000" stroke-width="0.36" transform="rotate(-90 21.2 221.2)" textLength="123.4" lengthAdjust="spacingAndGlyphs">Relative Entropy (Conservation)</text>
<text x="65.60" y="167.60" font-size="8.2" font-weight="bold" fill="#213f96" text-anchor="start" stroke="#213f96" stroke-width="0.26" textLength="25.1" lengthAdjust="spacingAndGlyphs">HFR-1</text>
<text x="122.60" y="167.60" font-size="8.2" font-weight="bold" fill="#000" text-anchor="start" stroke="#000" stroke-width="0.4" textLength="15.0" lengthAdjust="spacingAndGlyphs">H22</text>
<text x="122.70" y="177.80" font-size="8.2" font-weight="bold" fill="#000" text-anchor="start" stroke="#000" stroke-width="0.4" textLength="15.0" lengthAdjust="spacingAndGlyphs">Cys</text>
<text x="156.50" y="167.60" font-size="8.2" font-weight="bold" fill="#e03a3a" text-anchor="start" stroke="#e03a3a" stroke-width="0.26" textLength="29.0" lengthAdjust="spacingAndGlyphs">HCDR1</text>
<text x="198.00" y="167.60" font-size="8.2" font-weight="bold" fill="#213f96" text-anchor="start" stroke="#213f96" stroke-width="0.26" textLength="25.8" lengthAdjust="spacingAndGlyphs">HFR-2</text>
<text x="257.00" y="167.60" font-size="8.2" font-weight="bold" fill="#3cb044" text-anchor="start" stroke="#3cb044" stroke-width="0.26" textLength="29.2" lengthAdjust="spacingAndGlyphs">HCDR2</text>
<text x="330.20" y="167.60" font-size="8.2" font-weight="bold" fill="#213f96" text-anchor="start" stroke="#213f96" stroke-width="0.26" textLength="26.5" lengthAdjust="spacingAndGlyphs">HFR-3</text>
<text x="414.20" y="167.60" font-size="8.2" font-weight="bold" fill="#000" text-anchor="start" stroke="#000" stroke-width="0.4" textLength="15.8" lengthAdjust="spacingAndGlyphs">H92</text>
<text x="414.60" y="177.80" font-size="8.2" font-weight="bold" fill="#000" text-anchor="start" stroke="#000" stroke-width="0.4" textLength="15.4" lengthAdjust="spacingAndGlyphs">Cys</text>
<text x="442.30" y="167.60" font-size="8.2" font-weight="bold" fill="#8040a8" text-anchor="start" stroke="#8040a8" stroke-width="0.26" textLength="29.1" lengthAdjust="spacingAndGlyphs">HCDR3</text>
<text x="497.40" y="167.60" font-size="8.2" font-weight="bold" fill="#213f96" text-anchor="start" stroke="#213f96" stroke-width="0.26" textLength="25.3" lengthAdjust="spacingAndGlyphs">HFR-4</text>
<path d="M154.20,224.30 L154.20,222.05 M154.20,224.30 L156.34,223.60 M154.20,224.30 L155.52,226.12 M154.20,224.30 L152.88,226.12 M154.20,224.30 L152.06,223.60 " stroke="#4a4a4a" stroke-width="0.95" stroke-linecap="round" fill="none"/>
<line x1="37.50" y1="319.00" x2="37.50" y2="429.00" stroke="#000" stroke-width="1.5"/>
<line x1="36.80" y1="428.30" x2="373.40" y2="428.30" stroke="#000" stroke-width="1.5"/>
<line x1="33.40" y1="428.30" x2="37.50" y2="428.30" stroke="#000" stroke-width="1.3"/>
<text x="32.90" y="431.20" font-size="8.2" font-weight="bold" fill="#000" text-anchor="end" stroke="#000" stroke-width="0.36" textLength="3.3" lengthAdjust="spacingAndGlyphs">0</text>
<line x1="33.40" y1="406.60" x2="37.50" y2="406.60" stroke="#000" stroke-width="1.3"/>
<text x="32.90" y="409.50" font-size="8.2" font-weight="bold" fill="#000" text-anchor="end" stroke="#000" stroke-width="0.36" textLength="3.3" lengthAdjust="spacingAndGlyphs">1</text>
<line x1="33.40" y1="384.90" x2="37.50" y2="384.90" stroke="#000" stroke-width="1.3"/>
<text x="32.90" y="387.80" font-size="8.2" font-weight="bold" fill="#000" text-anchor="end" stroke="#000" stroke-width="0.36" textLength="3.3" lengthAdjust="spacingAndGlyphs">2</text>
<line x1="33.40" y1="363.20" x2="37.50" y2="363.20" stroke="#000" stroke-width="1.3"/>
<text x="32.90" y="366.10" font-size="8.2" font-weight="bold" fill="#000" text-anchor="end" stroke="#000" stroke-width="0.36" textLength="3.3" lengthAdjust="spacingAndGlyphs">3</text>
<line x1="33.40" y1="341.50" x2="37.50" y2="341.50" stroke="#000" stroke-width="1.3"/>
<text x="32.90" y="344.40" font-size="8.2" font-weight="bold" fill="#000" text-anchor="end" stroke="#000" stroke-width="0.36" textLength="3.3" lengthAdjust="spacingAndGlyphs">4</text>
<line x1="33.40" y1="319.80" x2="37.50" y2="319.80" stroke="#000" stroke-width="1.3"/>
<text x="32.90" y="322.70" font-size="8.2" font-weight="bold" fill="#000" text-anchor="end" stroke="#000" stroke-width="0.36" textLength="3.3" lengthAdjust="spacingAndGlyphs">5</text>
<text x="3.20" y="328.00" font-size="11.4" font-weight="bold" fill="#000" text-anchor="start" stroke="#000" stroke-width="0.36" >C</text>
<text x="23.60" y="374.30" font-size="5.1" font-weight="bold" fill="#000" text-anchor="middle" stroke="#000" stroke-width="0.36" transform="rotate(-90 23.6 374.3)" textLength="110.8" lengthAdjust="spacingAndGlyphs">Relative Entropy (Conservation)</text>
<line x1="53.10" y1="428.30" x2="53.10" y2="433.10" stroke="#000" stroke-width="1.3"/>
<text x="53.10" y="441.90" font-size="7.6" font-weight="bold" fill="#000" text-anchor="middle" stroke="#000" stroke-width="0.36" textLength="18.2" lengthAdjust="spacingAndGlyphs">LFR-1</text>
<line x1="76.46" y1="428.30" x2="76.46" y2="433.10" stroke="#000" stroke-width="1.3"/>
<text x="76.46" y="441.90" font-size="7.6" font-weight="bold" fill="#000" text-anchor="middle" stroke="#000" stroke-width="0.36" textLength="18.2" lengthAdjust="spacingAndGlyphs">LFR-2</text>
<line x1="99.82" y1="428.30" x2="99.82" y2="433.10" stroke="#000" stroke-width="1.3"/>
<text x="99.82" y="441.90" font-size="7.6" font-weight="bold" fill="#000" text-anchor="middle" stroke="#000" stroke-width="0.36" textLength="18.2" lengthAdjust="spacingAndGlyphs">LFR-3</text>
<line x1="123.18" y1="428.30" x2="123.18" y2="433.10" stroke="#000" stroke-width="1.3"/>
<text x="123.18" y="441.90" font-size="7.6" font-weight="bold" fill="#000" text-anchor="middle" stroke="#000" stroke-width="0.36" textLength="18.2" lengthAdjust="spacingAndGlyphs">LFR-4</text>
<line x1="146.54" y1="428.30" x2="146.54" y2="433.10" stroke="#000" stroke-width="1.3"/>
<text x="146.54" y="441.90" font-size="7.6" font-weight="bold" fill="#000" text-anchor="middle" stroke="#000" stroke-width="0.36" textLength="22.2" lengthAdjust="spacingAndGlyphs">LCDR1</text>
<line x1="169.90" y1="428.30" x2="169.90" y2="433.10" stroke="#000" stroke-width="1.3"/>
<text x="169.90" y="441.90" font-size="7.6" font-weight="bold" fill="#000" text-anchor="middle" stroke="#000" stroke-width="0.36" textLength="22.9" lengthAdjust="spacingAndGlyphs">LCDR2</text>
<line x1="193.26" y1="428.30" x2="193.26" y2="433.10" stroke="#000" stroke-width="1.3"/>
<text x="193.26" y="441.90" font-size="7.6" font-weight="bold" fill="#000" text-anchor="middle" stroke="#000" stroke-width="0.36" textLength="22.6" lengthAdjust="spacingAndGlyphs">LCDR3</text>
<line x1="216.62" y1="428.30" x2="216.62" y2="433.10" stroke="#000" stroke-width="1.3"/>
<text x="216.62" y="441.90" font-size="7.6" font-weight="bold" fill="#000" text-anchor="middle" stroke="#000" stroke-width="0.36" textLength="18.6" lengthAdjust="spacingAndGlyphs">HFR-1</text>
<line x1="239.98" y1="428.30" x2="239.98" y2="433.10" stroke="#000" stroke-width="1.3"/>
<text x="239.98" y="441.90" font-size="7.6" font-weight="bold" fill="#000" text-anchor="middle" stroke="#000" stroke-width="0.36" textLength="18.6" lengthAdjust="spacingAndGlyphs">HFR-2</text>
<line x1="263.34" y1="428.30" x2="263.34" y2="433.10" stroke="#000" stroke-width="1.3"/>
<text x="263.34" y="441.90" font-size="7.6" font-weight="bold" fill="#000" text-anchor="middle" stroke="#000" stroke-width="0.36" textLength="18.6" lengthAdjust="spacingAndGlyphs">HFR-3</text>
<line x1="286.70" y1="428.30" x2="286.70" y2="433.10" stroke="#000" stroke-width="1.3"/>
<text x="286.70" y="441.90" font-size="7.6" font-weight="bold" fill="#000" text-anchor="middle" stroke="#000" stroke-width="0.36" textLength="18.6" lengthAdjust="spacingAndGlyphs">HFR-4</text>
<line x1="310.06" y1="428.30" x2="310.06" y2="433.10" stroke="#000" stroke-width="1.3"/>
<text x="310.06" y="441.90" font-size="7.6" font-weight="bold" fill="#000" text-anchor="middle" stroke="#000" stroke-width="0.36" textLength="22.4" lengthAdjust="spacingAndGlyphs">HCDR1</text>
<line x1="333.42" y1="428.30" x2="333.42" y2="433.10" stroke="#000" stroke-width="1.3"/>
<text x="333.42" y="441.90" font-size="7.6" font-weight="bold" fill="#000" text-anchor="middle" stroke="#000" stroke-width="0.36" textLength="22.4" lengthAdjust="spacingAndGlyphs">HCDR2</text>
<line x1="356.78" y1="428.30" x2="356.78" y2="433.10" stroke="#000" stroke-width="1.3"/>
<text x="356.78" y="441.90" font-size="7.6" font-weight="bold" fill="#000" text-anchor="middle" stroke="#000" stroke-width="0.36" textLength="22.2" lengthAdjust="spacingAndGlyphs">HCDR3</text>
<line x1="53.10" y1="376.00" x2="53.10" y2="385.30" stroke="#3a4ea4" stroke-width="1.3"/>
<line x1="49.40" y1="376.00" x2="56.80" y2="376.00" stroke="#3a4ea4" stroke-width="1.4"/>
<line x1="53.10" y1="402.70" x2="53.10" y2="409.80" stroke="#3a4ea4" stroke-width="1.3"/>
<line x1="49.40" y1="409.80" x2="56.80" y2="409.80" stroke="#3a4ea4" stroke-width="1.4"/>
<rect x="46.05" y="385.30" width="14.10" height="17.40" fill="#6f7ac2" stroke="#3a4ea4" stroke-width="1.25"/>
<line x1="46.05" y1="397.10" x2="60.15" y2="397.10" stroke="#3a4ea4" stroke-width="1.25"/>
<circle cx="53.10" cy="345.60" r="1.95" fill="#3a4ea4"/>
<line x1="76.40" y1="371.10" x2="76.40" y2="377.10" stroke="#e8262a" stroke-width="1.3"/>
<line x1="72.70" y1="371.10" x2="80.10" y2="371.10" stroke="#e8262a" stroke-width="1.4"/>
<line x1="76.40" y1="388.70" x2="76.40" y2="404.10" stroke="#e8262a" stroke-width="1.3"/>
<line x1="72.70" y1="404.10" x2="80.10" y2="404.10" stroke="#e8262a" stroke-width="1.4"/>
<rect x="69.35" y="377.10" width="14.10" height="11.60" fill="#f08484" stroke="#e8262a" stroke-width="1.25"/>
<line x1="69.35" y1="380.30" x2="83.45" y2="380.30" stroke="#e8262a" stroke-width="1.25"/>
<rect x="74.70" y="337.40" width="3.40" height="3.40" fill="#e8262a" />
<line x1="99.60" y1="344.00" x2="99.60" y2="375.00" stroke="#3cb449" stroke-width="1.3"/>
<line x1="95.90" y1="344.00" x2="103.30" y2="344.00" stroke="#3cb449" stroke-width="1.4"/>
<line x1="99.60" y1="398.30" x2="99.60" y2="407.60" stroke="#3cb449" stroke-width="1.3"/>
<line x1="95.90" y1="407.60" x2="103.30" y2="407.60" stroke="#3cb449" stroke-width="1.4"/>
<rect x="92.55" y="375.00" width="14.10" height="23.30" fill="#8ccf8e" stroke="#3cb449" stroke-width="1.25"/>
<line x1="92.55" y1="387.00" x2="106.65" y2="387.00" stroke="#3cb449" stroke-width="1.25"/>
<line x1="123.00" y1="361.80" x2="123.00" y2="378.30" stroke="#8b44ac" stroke-width="1.3"/>
<line x1="119.30" y1="361.80" x2="126.70" y2="361.80" stroke="#8b44ac" stroke-width="1.4"/>
<line x1="123.00" y1="394.30" x2="123.00" y2="409.10" stroke="#8b44ac" stroke-width="1.3"/>
<line x1="119.30" y1="409.10" x2="126.70" y2="409.10" stroke="#8b44ac" stroke-width="1.4"/>
<rect x="115.95" y="378.30" width="14.10" height="16.00" fill="#b38bcb" stroke="#8b44ac" stroke-width="1.25"/>
<line x1="115.95" y1="385.40" x2="130.05" y2="385.40" stroke="#8b44ac" stroke-width="1.25"/>
<path d="M120.90,354.40 L125.10,354.40 L123.00,357.80 Z" fill="#8b44ac"/>
<path d="M120.90,408.90 L125.10,408.90 L123.00,412.30 Z" fill="#8b44ac"/>
<line x1="146.60" y1="396.40" x2="146.60" y2="403.50" stroke="#f07a20" stroke-width="1.3"/>
<line x1="142.90" y1="396.40" x2="150.30" y2="396.40" stroke="#f07a20" stroke-width="1.4"/>
<line x1="146.60" y1="408.60" x2="146.60" y2="416.40" stroke="#f07a20" stroke-width="1.3"/>
<line x1="142.90" y1="416.40" x2="150.30" y2="416.40" stroke="#f07a20" stroke-width="1.4"/>
<rect x="139.55" y="403.50" width="14.10" height="5.10" fill="#f5b16e" stroke="#f07a20" stroke-width="1.25"/>
<line x1="139.55" y1="405.90" x2="153.65" y2="405.90" stroke="#f07a20" stroke-width="1.25"/>
<rect x="162.75" y="403.70" width="14.10" height="4.20" fill="#9a9a9a" stroke="#111111" stroke-width="1.6"/>
<line x1="162.75" y1="405.70" x2="176.85" y2="405.70" stroke="#111111" stroke-width="1.6"/>
<circle cx="169.80" cy="383.70" r="2.35" fill="#111111"/>
<circle cx="169.80" cy="418.00" r="2.35" fill="#111111"/>
<line x1="193.30" y1="400.80" x2="193.30" y2="406.60" stroke="#a2722e" stroke-width="1.3"/>
<line x1="189.60" y1="400.80" x2="197.00" y2="400.80" stroke="#a2722e" stroke-width="1.4"/>
<line x1="193.30" y1="418.90" x2="193.30" y2="421.40" stroke="#a2722e" stroke-width="1.3"/>
<line x1="189.60" y1="421.40" x2="197.00" y2="421.40" stroke="#a2722e" stroke-width="1.4"/>
<rect x="186.25" y="406.60" width="14.10" height="12.30" fill="#c9a77a" stroke="#a2722e" stroke-width="1.25"/>
<line x1="186.25" y1="412.90" x2="200.35" y2="412.90" stroke="#a2722e" stroke-width="1.25"/>
<line x1="216.30" y1="376.80" x2="216.30" y2="385.90" stroke="#2f3d8e" stroke-width="1.3"/>
<line x1="212.60" y1="376.80" x2="220.00" y2="376.80" stroke="#2f3d8e" stroke-width="1.4"/>
<line x1="216.30" y1="395.80" x2="216.30" y2="408.50" stroke="#2f3d8e" stroke-width="1.3"/>
<line x1="212.60" y1="408.50" x2="220.00" y2="408.50" stroke="#2f3d8e" stroke-width="1.4"/>
<rect x="209.25" y="385.90" width="14.10" height="9.90" fill="#6b77be" stroke="#2f3d8e" stroke-width="1.25"/>
<line x1="209.25" y1="391.10" x2="223.35" y2="391.10" stroke="#2f3d8e" stroke-width="1.25"/>
<path d="M214.30,344.60 L218.30,344.60 L216.30,341.20 Z" fill="#2f3d8e"/>
<path d="M214.30,362.30 L218.30,362.30 L216.30,358.90 Z" fill="#2f3d8e"/>
<line x1="239.80" y1="355.50" x2="239.80" y2="363.30" stroke="#7b3d8a" stroke-width="1.3"/>
<line x1="236.10" y1="355.50" x2="243.50" y2="355.50" stroke="#7b3d8a" stroke-width="1.4"/>
<line x1="239.80" y1="388.50" x2="239.80" y2="401.00" stroke="#7b3d8a" stroke-width="1.3"/>
<line x1="236.10" y1="401.00" x2="243.50" y2="401.00" stroke="#7b3d8a" stroke-width="1.4"/>
<rect x="232.75" y="363.30" width="14.10" height="25.20" fill="#ad7cbb" stroke="#7b3d8a" stroke-width="1.25"/>
<line x1="232.75" y1="378.90" x2="246.85" y2="378.90" stroke="#7b3d8a" stroke-width="1.25"/>
<line x1="263.20" y1="362.00" x2="263.20" y2="379.90" stroke="#b32a30" stroke-width="1.3"/>
<line x1="259.50" y1="362.00" x2="266.90" y2="362.00" stroke="#b32a30" stroke-width="1.4"/>
<line x1="263.20" y1="397.60" x2="263.20" y2="407.50" stroke="#b32a30" stroke-width="1.3"/>
<line x1="259.50" y1="407.50" x2="266.90" y2="407.50" stroke="#b32a30" stroke-width="1.4"/>
<rect x="256.15" y="379.90" width="14.10" height="17.70" fill="#d98384" stroke="#b32a30" stroke-width="1.25"/>
<line x1="256.15" y1="390.60" x2="270.25" y2="390.60" stroke="#b32a30" stroke-width="1.25"/>
<path d="M263.20,340.50 L265.60,343.00 L263.20,345.50 L260.80,343.00 Z" fill="#b32a30"/>
<line x1="286.60" y1="374.90" x2="286.60" y2="380.60" stroke="#0f6a3a" stroke-width="1.3"/>
<line x1="282.90" y1="374.90" x2="290.30" y2="374.90" stroke="#0f6a3a" stroke-width="1.4"/>
<line x1="286.60" y1="388.40" x2="286.60" y2="401.80" stroke="#0f6a3a" stroke-width="1.3"/>
<line x1="282.90" y1="401.80" x2="290.30" y2="401.80" stroke="#0f6a3a" stroke-width="1.4"/>
<rect x="279.55" y="380.60" width="14.10" height="7.80" fill="#1b7444" stroke="#0f6a3a" stroke-width="1.25"/>
<line x1="279.55" y1="384.30" x2="293.65" y2="384.30" stroke="#0f6a3a" stroke-width="1.25"/>
<circle cx="286.60" cy="356.90" r="1.95" fill="#0f6a3a"/>
<line x1="309.60" y1="385.10" x2="309.60" y2="392.40" stroke="#f3b27c" stroke-width="1.3"/>
<line x1="305.90" y1="385.10" x2="313.30" y2="385.10" stroke="#f3b27c" stroke-width="1.4"/>
<line x1="309.60" y1="412.40" x2="309.60" y2="415.80" stroke="#f3b27c" stroke-width="1.3"/>
<line x1="305.90" y1="415.80" x2="313.30" y2="415.80" stroke="#f3b27c" stroke-width="1.4"/>
<rect x="302.55" y="392.40" width="14.10" height="20.00" fill="#fbd9bc" stroke="#f3b27c" stroke-width="1.25"/>
<line x1="302.55" y1="400.20" x2="316.65" y2="400.20" stroke="#f3b27c" stroke-width="1.25"/>
<line x1="333.20" y1="370.30" x2="333.20" y2="394.90" stroke="#6dbf3c" stroke-width="1.3"/>
<line x1="329.50" y1="370.30" x2="336.90" y2="370.30" stroke="#6dbf3c" stroke-width="1.4"/>
<line x1="333.20" y1="413.60" x2="333.20" y2="421.40" stroke="#6dbf3c" stroke-width="1.3"/>
<line x1="329.50" y1="421.40" x2="336.90" y2="421.40" stroke="#6dbf3c" stroke-width="1.4"/>
<rect x="326.15" y="394.90" width="14.10" height="18.70" fill="#a2d67f" stroke="#6dbf3c" stroke-width="1.25"/>
<line x1="326.15" y1="404.00" x2="340.25" y2="404.00" stroke="#6dbf3c" stroke-width="1.25"/>
<line x1="356.80" y1="420.90" x2="356.80" y2="422.20" stroke="#8cb6e6" stroke-width="1.3"/>
<line x1="353.10" y1="420.90" x2="360.50" y2="420.90" stroke="#8cb6e6" stroke-width="1.4"/>
<line x1="356.80" y1="425.40" x2="356.80" y2="426.80" stroke="#8cb6e6" stroke-width="1.3"/>
<line x1="353.10" y1="426.80" x2="360.50" y2="426.80" stroke="#8cb6e6" stroke-width="1.4"/>
<rect x="349.75" y="422.20" width="14.10" height="3.20" fill="#a9c9ef" stroke="#8cb6e6" stroke-width="1.25"/>
<line x1="349.75" y1="423.80" x2="363.85" y2="423.80" stroke="#8cb6e6" stroke-width="1.25"/>
<path d="M355.00,383.50 L358.60,387.10 M358.60,383.50 L355.00,387.10" stroke="#5a8ed6" stroke-width="1.05" fill="none"/>
<path d="M355.00,403.00 L358.60,406.60 M358.60,403.00 L355.00,406.60" stroke="#5a8ed6" stroke-width="1.05" fill="none"/>
<text x="365.00" y="328.40" font-size="11.8" font-weight="bold" fill="#000" text-anchor="start" stroke="#000" stroke-width="0.36" >D</text>
<line x1="377.30" y1="329.10" x2="546.40" y2="329.10" stroke="#444" stroke-width="1.0"/>
<line x1="377.30" y1="347.80" x2="546.40" y2="347.80" stroke="#444" stroke-width="1.0"/>
<line x1="377.30" y1="363.70" x2="546.40" y2="363.70" stroke="#aaaaaa" stroke-width="0.9"/>
<line x1="377.30" y1="379.10" x2="546.40" y2="379.10" stroke="#aaaaaa" stroke-width="0.9"/>
<line x1="377.30" y1="394.60" x2="546.40" y2="394.60" stroke="#aaaaaa" stroke-width="0.9"/>
<line x1="377.30" y1="410.40" x2="546.40" y2="410.40" stroke="#aaaaaa" stroke-width="0.9"/>
<line x1="377.30" y1="426.30" x2="546.40" y2="426.30" stroke="#aaaaaa" stroke-width="0.9"/>
<line x1="377.30" y1="442.40" x2="546.40" y2="442.40" stroke="#888" stroke-width="0.9"/>
<text x="398.00" y="342.30" font-size="7.2" font-weight="bold" fill="#222" text-anchor="middle" stroke="#222" stroke-width="0.36" textLength="21.4" lengthAdjust="spacingAndGlyphs">Loops</text>
<text x="440.70" y="342.30" font-size="7.2" font-weight="bold" fill="#222" text-anchor="middle" stroke="#222" stroke-width="0.36" textLength="40.4" lengthAdjust="spacingAndGlyphs">Average RE</text>
<text x="483.90" y="342.30" font-size="7.2" font-weight="bold" fill="#222" text-anchor="middle" stroke="#222" stroke-width="0.36" textLength="36.9" lengthAdjust="spacingAndGlyphs">Median RE</text>
<text x="526.20" y="342.30" font-size="7.2" font-weight="bold" fill="#222" text-anchor="middle" stroke="#222" stroke-width="0.36" textLength="21.4" lengthAdjust="spacingAndGlyphs">SD RE</text>
<text x="397.80" y="358.60" font-size="7.9" font-weight="normal" fill="#1c1c1c" text-anchor="middle" stroke="#1c1c1c" stroke-width="0.2" textLength="24.4" lengthAdjust="spacingAndGlyphs">LCDR1</text>
<text x="440.70" y="358.60" font-size="7.9" font-weight="normal" fill="#1c1c1c" text-anchor="middle" stroke="#1c1c1c" stroke-width="0.2" textLength="18.0" lengthAdjust="spacingAndGlyphs">1.037</text>
<text x="483.80" y="358.60" font-size="7.9" font-weight="normal" fill="#1c1c1c" text-anchor="middle" stroke="#1c1c1c" stroke-width="0.2" textLength="18.6" lengthAdjust="spacingAndGlyphs">1.084</text>
<text x="526.20" y="358.60" font-size="7.9" font-weight="normal" fill="#1c1c1c" text-anchor="middle" stroke="#1c1c1c" stroke-width="0.2" textLength="18.6" lengthAdjust="spacingAndGlyphs">0.255</text>
<text x="397.80" y="374.20" font-size="7.9" font-weight="normal" fill="#1c1c1c" text-anchor="middle" stroke="#1c1c1c" stroke-width="0.2" textLength="24.4" lengthAdjust="spacingAndGlyphs">LCDR2</text>
<text x="440.70" y="374.20" font-size="7.9" font-weight="normal" fill="#1c1c1c" text-anchor="middle" stroke="#1c1c1c" stroke-width="0.2" textLength="18.0" lengthAdjust="spacingAndGlyphs">1.146</text>
<text x="483.80" y="374.20" font-size="7.9" font-weight="normal" fill="#1c1c1c" text-anchor="middle" stroke="#1c1c1c" stroke-width="0.2" textLength="18.6" lengthAdjust="spacingAndGlyphs">1.203</text>
<text x="526.20" y="374.20" font-size="7.9" font-weight="normal" fill="#1c1c1c" text-anchor="middle" stroke="#1c1c1c" stroke-width="0.2" textLength="18.6" lengthAdjust="spacingAndGlyphs">0.478</text>
<text x="397.80" y="390.00" font-size="7.9" font-weight="normal" fill="#1c1c1c" text-anchor="middle" stroke="#1c1c1c" stroke-width="0.2" textLength="24.4" lengthAdjust="spacingAndGlyphs">LCDR3</text>
<text x="440.70" y="390.00" font-size="7.9" font-weight="normal" fill="#1c1c1c" text-anchor="middle" stroke="#1c1c1c" stroke-width="0.2" textLength="18.0" lengthAdjust="spacingAndGlyphs">0.784</text>
<text x="483.80" y="390.00" font-size="7.9" font-weight="normal" fill="#1c1c1c" text-anchor="middle" stroke="#1c1c1c" stroke-width="0.2" textLength="18.6" lengthAdjust="spacingAndGlyphs">0.684</text>
<text x="526.20" y="390.00" font-size="7.9" font-weight="normal" fill="#1c1c1c" text-anchor="middle" stroke="#1c1c1c" stroke-width="0.2" textLength="18.6" lengthAdjust="spacingAndGlyphs">0.371</text>
<text x="397.80" y="405.80" font-size="7.9" font-weight="normal" fill="#1c1c1c" text-anchor="middle" stroke="#1c1c1c" stroke-width="0.2" textLength="24.4" lengthAdjust="spacingAndGlyphs">HCDR1</text>
<text x="440.70" y="405.80" font-size="7.9" font-weight="normal" fill="#1c1c1c" text-anchor="middle" stroke="#1c1c1c" stroke-width="0.2" textLength="18.0" lengthAdjust="spacingAndGlyphs">1.205</text>
<text x="483.80" y="405.80" font-size="7.9" font-weight="normal" fill="#1c1c1c" text-anchor="middle" stroke="#1c1c1c" stroke-width="0.2" textLength="18.6" lengthAdjust="spacingAndGlyphs">1.271</text>
<text x="526.20" y="405.80" font-size="7.9" font-weight="normal" fill="#1c1c1c" text-anchor="middle" stroke="#1c1c1c" stroke-width="0.2" textLength="18.6" lengthAdjust="spacingAndGlyphs">0.542</text>
<text x="397.80" y="421.60" font-size="7.9" font-weight="normal" fill="#1c1c1c" text-anchor="middle" stroke="#1c1c1c" stroke-width="0.2" textLength="24.4" lengthAdjust="spacingAndGlyphs">HCDR2</text>
<text x="440.70" y="421.60" font-size="7.9" font-weight="normal" fill="#1c1c1c" text-anchor="middle" stroke="#1c1c1c" stroke-width="0.2" textLength="18.0" lengthAdjust="spacingAndGlyphs">1.204</text>
<text x="483.80" y="421.60" font-size="7.9" font-weight="normal" fill="#1c1c1c" text-anchor="middle" stroke="#1c1c1c" stroke-width="0.2" textLength="18.6" lengthAdjust="spacingAndGlyphs">1.129</text>
<text x="526.20" y="421.60" font-size="7.9" font-weight="normal" fill="#1c1c1c" text-anchor="middle" stroke="#1c1c1c" stroke-width="0.2" textLength="18.6" lengthAdjust="spacingAndGlyphs">0.670</text>
<text x="397.80" y="437.40" font-size="7.9" font-weight="normal" fill="#1c1c1c" text-anchor="middle" stroke="#1c1c1c" stroke-width="0.2" textLength="24.4" lengthAdjust="spacingAndGlyphs">HCDR3</text>
<text x="440.70" y="437.40" font-size="7.9" font-weight="normal" fill="#1c1c1c" text-anchor="middle" stroke="#1c1c1c" stroke-width="0.2" textLength="18.0" lengthAdjust="spacingAndGlyphs">0.394</text>
<text x="483.80" y="437.40" font-size="7.9" font-weight="normal" fill="#1c1c1c" text-anchor="middle" stroke="#1c1c1c" stroke-width="0.2" textLength="18.6" lengthAdjust="spacingAndGlyphs">0.207</text>
<text x="526.20" y="437.40" font-size="7.9" font-weight="normal" fill="#1c1c1c" text-anchor="middle" stroke="#1c1c1c" stroke-width="0.2" textLength="18.6" lengthAdjust="spacingAndGlyphs">0.521</text>
</g></g></svg>
</body></html>
